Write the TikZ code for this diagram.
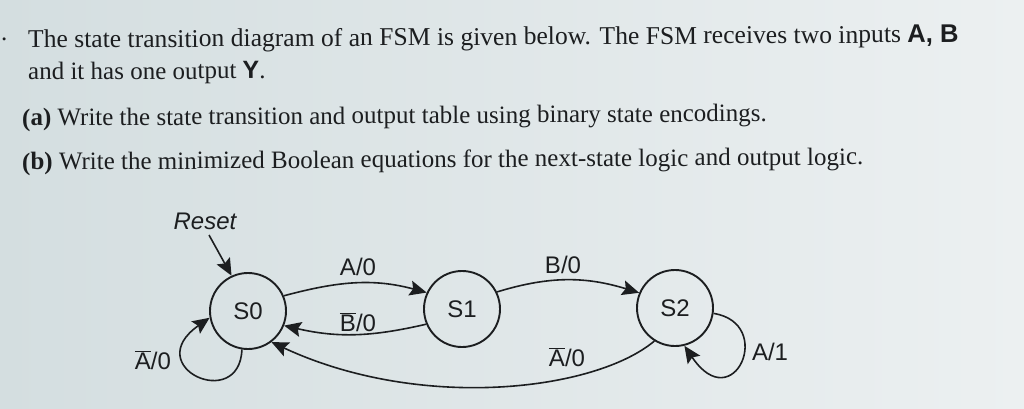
\documentclass[tikz,border=0pt]{standalone}
\usepackage{fontspec}
\setmainfont{Liberation Serif}
\newfontfamily\dsans{Liberation Sans}
\usetikzlibrary{arrows.meta}
\definecolor{ink}{RGB}{28,30,32}
\definecolor{paperL}{RGB}{212,222,224}
\definecolor{paperR}{RGB}{236,240,241}
\newcommand\ovl[1]{$\overline{\mbox{#1}}$}
\begin{document}
\begin{tikzpicture}[x=1pt,y=1pt,
  state/.style={draw=ink, line width=1.9pt, circle, minimum size=76pt, inner sep=0pt, font=\dsans\fontsize{24}{28}\selectfont, text=ink},
  lbl/.style={font=\dsans\fontsize{24}{28}\selectfont, text=ink, inner sep=0pt},
  txt/.style={font=\fontsize{25}{30}\selectfont, text=ink, anchor=base west, inner sep=0pt, rotate=0.35},
  tr/.style={draw=ink, line width=1.6pt, -{Stealth[length=17pt,width=15pt,inset=3pt]}},
]
\shade[left color=paperL, right color=paperR] (0,0) rectangle (1024,408);
\useasboundingbox (0,0) rectangle (1024,408);

% question text
\node[txt] (dot) at (1,367) {.};
\node[txt, font=\fontsize{25.6}{30}\selectfont] (l1) at (28,360) {The state transition diagram of an FSM is given below. The FSM receives two inputs {\dsans\bfseries A, B}};
\node[txt] (l2) at (28,328) {and it has one output {\dsans\bfseries Y}.};
\node[txt] (la) at (22,282) {\textbf{(a)} Write the state transition and output table using binary state encodings.};
\node[txt] (lb) at (22,238) {\textbf{(b)} Write the minimized Boolean equations for the next-state logic and output logic.};

% states
\node[state] (S0) at (248,97) {S0};
\node[state] (S1) at (462,99) {S1};
\node[state] (S2) at (675,100) {S2};

% reset
\node[lbl, font=\dsans\itshape\fontsize{24}{28}\selectfont] (reset) at (205,187) {Reset};
\coordinate (rs) at (209,173);
\draw[tr] (rs) -- (S0.115);

% transitions
\draw[tr] (S0.23) to[out=15,in=165] (S1.155);
\node[lbl] (a0) at (358,141) {A/0};
\draw[tr] (S1.203) to[out=193,in=347] (S0.338);
\node[lbl] (nb0) at (358,86) {\ovl{B}/0};
\draw[tr] (S1.26) to[out=17,in=163] (S2.157);
\node[lbl] (b0) at (563,143) {B/0};
\draw[tr] (S2.238) to[out=220,in=335,out distance=78,in distance=164] (S0.307);
\node[lbl] (na0b) at (567,51) {\ovl{A}/0};
\draw[tr] (S0.261) to[out=268,in=215,out distance=63,in distance=86] (S0.190);
\node[lbl] (na0) at (153,48) {\ovl{A}/0};
\draw[tr] (S2.352) to[out=351,in=304,out distance=63,in distance=88] (S2.284);
\node[lbl] (a1) at (770,56) {A/1};
\end{tikzpicture}
\end{document}
